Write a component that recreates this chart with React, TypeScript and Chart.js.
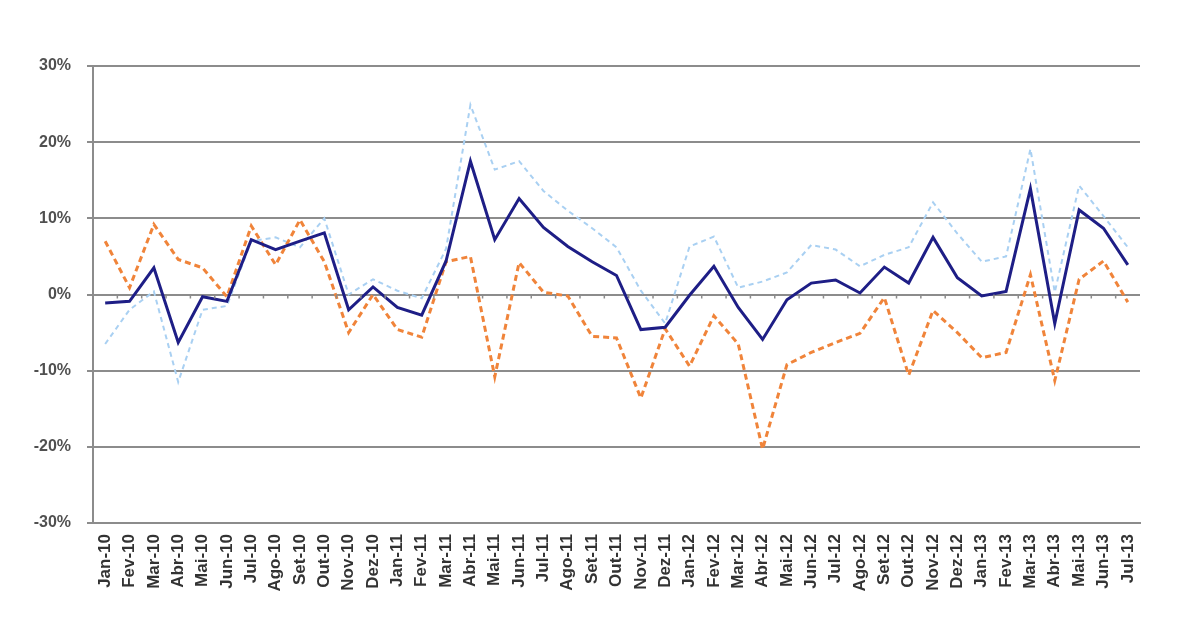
import React, { useEffect, useRef } from "react";
import { Chart, registerables } from "chart.js";

Chart.register(...registerables);

const categories = [
  "Jan-10", "Fev-10", "Mar-10", "Abr-10", "Mai-10", "Jun-10", "Jul-10", "Ago-10", "Set-10", "Out-10", "Nov-10", "Dez-10",
  "Jan-11", "Fev-11", "Mar-11", "Abr-11", "Mai-11", "Jun-11", "Jul-11", "Ago-11", "Set-11", "Out-11", "Nov-11", "Dez-11",
  "Jan-12", "Fev-12", "Mar-12", "Abr-12", "Mai-12", "Jun-12", "Jul-12", "Ago-12", "Set-12", "Out-12", "Nov-12", "Dez-12",
  "Jan-13", "Fev-13", "Mar-13", "Abr-13", "Mai-13", "Jun-13", "Jul-13",
];

const navySeries = [
  -1.1, -0.9, 3.5, -6.3, -0.3, -0.9, 7.2, 5.9, 7.0, 8.1, -2.0, 1.0,
  -1.7, -2.7, 4.4, 17.5, 7.2, 12.6, 8.8, 6.3, 4.3, 2.5, -4.6, -4.3,
  -0.1, 3.7, -1.7, -5.9, -0.7, 1.5, 1.9, 0.2, 3.6, 1.5, 7.5, 2.2,
  -0.2, 0.4, 13.9, -3.8, 11.1, 8.7, 3.9,
];

const lightBlueSeries = [
  -6.5, -2.0, 0.4, -11.5, -2.0, -1.5, 7.0, 7.5, 6.2, 10.0, 0.0, 2.0,
  0.5, -0.5, 6.0, 24.9, 16.4, 17.5, 13.6, 11.0, 8.7, 6.2, 0.5, -3.8,
  6.3, 7.6, 0.9, 1.7, 2.9, 6.5, 5.9, 3.7, 5.2, 6.2, 12.1, 8.0,
  4.3, 5.0, 19.1, 0.3, 14.3, 10.3, 6.2,
];

const orangeSeries = [
  7.0, 0.9, 9.2, 4.6, 3.5, -0.3, 9.0, 3.9, 9.8, 4.3, -5.0, 0.0,
  -4.6, -5.6, 4.3, 5.0, -10.8, 4.2, 0.3, -0.2, -5.5, -5.7, -13.6, -4.5,
  -9.4, -2.8, -6.5, -20.3, -9.2, -7.6, -6.3, -5.1, -0.4, -10.6, -2.1, -5.0,
  -8.3, -7.6, 2.6, -11.3, 2.0, 4.4, -1.0,
];

const yTicks = [30, 20, 10, 0, -10, -20, -30];

const zeroTicksPlugin = {
  id: "zeroTicks",
  afterDatasetsDraw(chart: any) {
    const x = chart.scales.x;
    const y = chart.scales.y;
    const ctx = chart.ctx;
    const y0 = y.getPixelForValue(0);
    ctx.save();
    ctx.strokeStyle = "#8c8c8c";
    ctx.lineWidth = 1.5;
    for (let i = 1; i < categories.length; i++) {
      const px = (x.getPixelForValue(i) + x.getPixelForValue(i - 1)) / 2;
      ctx.beginPath();
      ctx.moveTo(px, y0);
      ctx.lineTo(px, y0 + 4);
      ctx.stroke();
    }
    ctx.restore();
  },
};

export default function App() {
  const ref = useRef<HTMLCanvasElement | null>(null);

  useEffect(() => {
    document.body.style.margin = "0";
    const canvas = ref.current;
    if (!canvas) return;
    const chart = new Chart(canvas, {
      type: "line",
      data: {
        labels: categories,
        datasets: [
          {
            label: "Navy",
            data: navySeries,
            borderColor: "#1e1e86",
            borderWidth: 3,
            pointRadius: 0,
            tension: 0,
            fill: false,
          },
          {
            label: "Orange",
            data: orangeSeries,
            borderColor: "#f0843a",
            borderWidth: 3,
            borderDash: [6, 4],
            pointRadius: 0,
            tension: 0,
            fill: false,
          },
          {
            label: "Light blue",
            data: lightBlueSeries,
            borderColor: "#a9d0f2",
            borderWidth: 2,
            borderDash: [5, 4],
            pointRadius: 0,
            tension: 0,
            fill: false,
          },
        ],
      },
      options: {
        animation: false,
        responsive: false,
        maintainAspectRatio: false,
        layout: { padding: { top: 66, right: 60, bottom: 0, left: 0 } },
        plugins: {
          legend: { display: false },
          tooltip: { enabled: false },
          title: { display: false },
        },
        scales: {
          x: {
            type: "category",
            offset: true,
            grid: { display: false, drawTicks: false },
            border: { display: true, color: "#8c8c8c", width: 2 },
            ticks: {
              autoSkip: false,
              maxRotation: 90,
              minRotation: 90,
              padding: 11,
              color: "#333333",
              font: { family: "Liberation Sans, Arial, sans-serif", size: 17, weight: "bold" },
            },
            afterFit(scale: any) {
              scale.height = 107;
            },
          },
          y: {
            min: -30,
            max: 30,
            afterBuildTicks(scale: any) {
              scale.ticks = yTicks.map((v) => ({ value: v }));
            },
            grid: {
              color: "#8c8c8c",
              lineWidth: 2,
              drawTicks: true,
              tickLength: 6,
            },
            border: { display: true, color: "#8c8c8c", width: 2 },
            ticks: {
              padding: 16,
              color: "#505050",
              font: { family: "Liberation Sans, Arial, sans-serif", size: 16, weight: "bold" },
              callback: (v: any) => `${v}%`,
            },
            afterFit(scale: any) {
              scale.width = 93;
            },
          },
        },
      },
      plugins: [zeroTicksPlugin],
    });
    return () => chart.destroy();
  }, []);

  return (
    <div style={{ position: "absolute", left: 0, top: 0, width: 1200, height: 630, background: "#fff" }}>
      <canvas ref={ref} width={1200} height={630} style={{ width: 1200, height: 630 }} />
    </div>
  );
}
